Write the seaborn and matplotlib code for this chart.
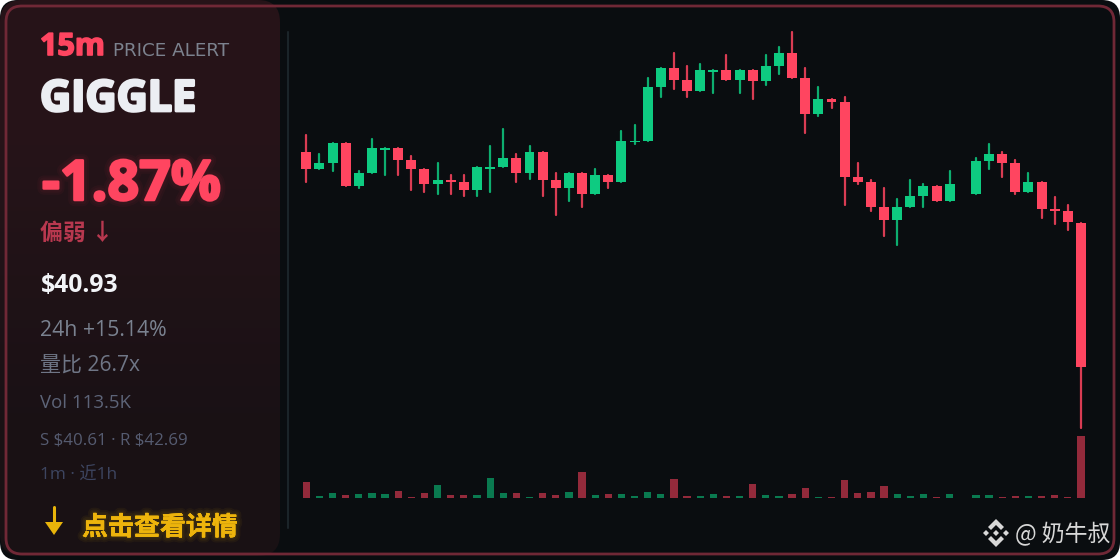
import numpy as np
import pandas as pd
import seaborn as sns
import matplotlib.pyplot as plt
import matplotlib.patheffects as pe
from matplotlib.patches import FancyBboxPatch, Polygon

# GIGGLE 1m candles, last 60 (index 50 has no trade)
opens = [42.095, 42.003, 42.034, 42.146, 41.911, 41.981, 42.106, 42.115, 42.054, 42.003,
         41.922, 41.942, 41.931, 41.889, 42.003, 42.012, 42.064, 41.981, 42.095, 41.942,
         41.900, 41.981, 41.869, 41.972, 41.931, 42.148, 42.157, 42.446, 42.549, 42.487,
         42.426, 42.529, 42.540, 42.487, 42.540, 42.478, 42.560, 42.632, 42.498, 42.303,
         42.384, 42.364, 41.962, 41.931, 41.797, 41.725, 41.797, 41.859, 41.909, 41.828,
         np.nan, 41.869, 42.045, 42.086, 42.034, 41.880, 41.931, 41.788, 41.777, 41.711]
highs = [42.187, 42.084, 42.146, 42.146, 41.992, 42.167, 42.115, 42.115, 42.074, 42.003,
         42.034, 41.972, 41.972, 42.012, 42.126, 42.218, 42.084, 42.126, 42.095, 41.981,
         41.981, 41.981, 42.003, 41.972, 42.209, 42.240, 42.498, 42.549, 42.632, 42.560,
         42.570, 42.540, 42.621, 42.540, 42.540, 42.621, 42.663, 42.746, 42.549, 42.446,
         42.384, 42.395, 42.034, 41.942, 41.900, 41.839, 41.942, 41.920, 41.909, 41.992,
         np.nan, 42.064, 42.137, 42.095, 42.054, 41.981, 41.931, 41.849, 41.808, 41.711]
lows = [41.931, 42.003, 41.992, 41.911, 41.900, 41.981, 41.972, 41.972, 41.889, 41.878,
        41.869, 41.869, 41.858, 41.858, 41.878, 42.012, 41.931, 41.951, 41.858, 41.755,
        41.828, 41.797, 41.869, 41.900, 41.931, 42.137, 42.157, 42.395, 42.437, 42.395,
        42.426, 42.415, 42.487, 42.415, 42.384, 42.457, 42.518, 42.498, 42.200, 42.292,
        42.334, 41.808, 41.920, 41.777, 41.642, 41.591, 41.797, 41.797, 41.828, 41.828,
        np.nan, 41.869, 42.003, 41.962, 41.869, 41.880, 41.736, 41.705, 41.674, 40.600]
closes = [42.003, 42.034, 42.146, 41.911, 41.981, 42.115, 42.115, 42.054, 42.003, 41.922,
          41.942, 41.931, 41.889, 42.012, 42.012, 42.064, 41.981, 42.095, 41.942, 41.900,
          41.981, 41.869, 41.972, 41.931, 42.157, 42.157, 42.446, 42.549, 42.487, 42.426,
          42.540, 42.540, 42.487, 42.540, 42.478, 42.560, 42.632, 42.498, 42.303, 42.384,
          42.364, 41.962, 41.931, 41.797, 41.725, 41.797, 41.859, 41.909, 41.828, 41.920,
          np.nan, 42.045, 42.086, 42.034, 41.880, 41.931, 41.788, 41.777, 41.716, 40.930]
volumes = [29.3, 3.0, 8.5, 4.9, 7.3, 8.5, 7.3, 13.4, 1.8, 9.8,
           23.2, 6.1, 5.5, 4.9, 36.6, 8.5, 8.5, 1.8, 9.8, 4.9,
           11.0, 47.6, 4.9, 6.7, 6.7, 3.7, 10.4, 7.3, 34.2, 4.3,
           4.3, 6.7, 3.0, 4.3, 25.0, 5.5, 3.7, 7.3, 17.7, 2.4,
           1.8, 32.3, 9.2, 11.6, 21.4, 6.7, 4.3, 6.7, 1.8, 7.3,
           np.nan, 4.9, 5.5, 1.8, 3.0, 3.7, 3.7, 6.1, 1.8, 113.5]

RED = '#FF4560'
GREEN = '#0ECB81'
RED_VOL = '#932A3B'
GREEN_VOL = '#0A7A50'
W, H = 1120, 560

df = pd.DataFrame({'i': range(60), 'o': opens, 'h': highs, 'l': lows, 'c': closes, 'vol': volumes}).dropna()
df['up'] = df['c'] >= df['o']
df['body'] = (df['c'] - df['o']).abs()
df['base'] = df[['o', 'c']].min(axis=1)

sns.set_theme(style='dark')
REG = ['Open Sans', 'Noto Sans CJK SC', 'DejaVu Sans']
CJK = ['Noto Sans CJK SC', 'DejaVu Sans']
plt.rcParams['font.family'] = REG
plt.rcParams['text.parse_math'] = False

fig = plt.figure(figsize=(11.2, 5.6), dpi=100, facecolor='white')


def px_axes(x0, y0, x1, y1):
    # axes from pixel box, y counted from the top of the image
    return fig.add_axes([x0 / W, 1 - y1 / H, (x1 - x0) / W, (y1 - y0) / H])


# card background and the left panel
bg = px_axes(0, 0, W, H)
bg.axis('off')
bg.add_patch(FancyBboxPatch((0, 0), W, H, boxstyle='round,pad=0,rounding_size=18', fc='#0A0D10', ec='none', zorder=1))
shade = np.array([[[0.150, 0.078, 0.098]], [[0.100, 0.067, 0.082]]])
img = bg.imshow(shade, extent=(0, 280, H, 0), aspect='auto', interpolation='bilinear', zorder=2)
img.set_clip_path(FancyBboxPatch((0, 0), 280, 556, boxstyle='round,pad=0,rounding_size=22',
                                 transform=bg.transData))
bg.add_patch(FancyBboxPatch((6, 6), W - 12, H - 12, boxstyle='round,pad=0,rounding_size=16',
                            fc='none', ec='#702836', lw=2, zorder=3))
bg.plot([288, 288], [32, 528], color='#1B2429', lw=1.5, zorder=3)
bg.set_xlim(0, W)
bg.set_ylim(H, 0)

# price panel
ax = px_axes(290, 20, 1100, 440)
ax.patch.set_alpha(0)
wicks = pd.concat([df[['i', 'up']].assign(price=df['h']), df[['i', 'up']].assign(price=df['l'])])
sns.lineplot(data=wicks, x='i', y='price', units='i', estimator=None, hue='up',
             palette={True: GREEN, False: RED}, lw=1.6, alpha=0.85, legend=False, ax=ax)
for is_up, color in [(True, GREEN), (False, RED)]:
    part = df[df['up'] == is_up].sort_values('i')
    sns.barplot(data=part, x='i', y='body', native_scale=True, bottom=part['base'].values,
                color=color, saturation=1, width=0.76, errorbar=None, linewidth=0, ax=ax)
ax.set_xlim((290 - 306.3) / 13.13, (1100 - 306.3) / 13.13)
ax.set_ylim(40.534, 42.811)
ax.axis('off')

# volume panel
vx = px_axes(290, 430, 1100, 498)
vx.patch.set_alpha(0)
for is_up, color in [(True, GREEN_VOL), (False, RED_VOL)]:
    part = df[df['up'] == is_up].sort_values('i')
    sns.barplot(data=part, x='i', y='vol', native_scale=True, color=color, saturation=1,
                width=0.55, errorbar=None, linewidth=0, ax=vx)
vx.set_xlim((290 - 306.3) / 13.13, (1100 - 306.3) / 13.13)
vx.set_ylim(0, 124.4)
vx.axis('off')


def label(x, y, s, size, color, family=REG, weight='normal', effects=None):
    bg.text(x, y, s, fontsize=size, color=color, family=family, fontweight=weight,
            va='baseline', ha='left', path_effects=effects, zorder=5)


def heavy(color, w=1.2):
    return [pe.withStroke(linewidth=w, foreground=color)]


def glow(color, width, w=0.0, alpha=0.04):
    fx = [pe.withStroke(linewidth=width * k, foreground=color, alpha=alpha) for k in (3, 2, 1)]
    return fx + [pe.withStroke(linewidth=w, foreground=color)]


label(40, 55, '15m', 22, RED, REG, 'bold', heavy(RED))
label(113, 55.5, 'PRICE ALERT', 13.2, '#7C828E', ['DejaVu Sans'])
label(40, 111, 'GIGGLE', 31, '#ECEEF3', REG, 'bold', heavy('#ECEEF3', 2))
label(42, 200, '-1.87%', 40, RED, REG, 'bold', glow(RED, 3, 1.8))
label(40, 240, '偏弱 ↓', 16.5, '#B8384F', CJK, 'bold')
label(41, 292, '$40.93', 17.8, '#F2F4F8', REG, 'bold')
label(40, 336, '24h +15.14%', 15.3, '#7A8290')
label(40, 372, '量比 26.7x', 15.1, '#6F7686')
label(40, 408, 'Vol 113.5K', 13.4, '#5D6478')
label(40, 444, 'S $40.61 · R $42.69', 12.2, '#555B70')
label(40, 480, '1m · 近1h', 12.4, '#3D4560')
label(82, 535, '点击查看详情', 18.7, '#EDB40C', CJK, 'bold', glow('#F0B90B', 2.5, 0.0, 0.05))

# gold arrow in front of the call to action
bg.plot([54, 54], [507, 526], color='#E8B40A', lw=2.2, zorder=5)
bg.add_patch(Polygon([[45, 522], [63, 522], [54, 535]], fc='#E8B40A', ec='none', zorder=5))

# watermark
WM = '#D8D8D8'
for cx, cy in [(996, 533), (986, 533), (1006, 533)]:
    bg.add_patch(Polygon([[cx - 3, cy], [cx, cy - 3], [cx + 3, cy], [cx, cy + 3]], fc=WM, ec='none', zorder=5))
bg.add_patch(Polygon([[996, 519], [1004, 527], [1001, 530], [996, 525], [991, 530], [988, 527]], fc=WM, ec='none', zorder=5))
bg.add_patch(Polygon([[996, 547], [1004, 539], [1001, 536], [996, 541], [991, 536], [988, 539]], fc=WM, ec='none', zorder=5))
label(1015, 541, '@ 奶牛叔', 16.5, WM, CJK)

fig.savefig('out.png', dpi=100, facecolor=fig.get_facecolor())
